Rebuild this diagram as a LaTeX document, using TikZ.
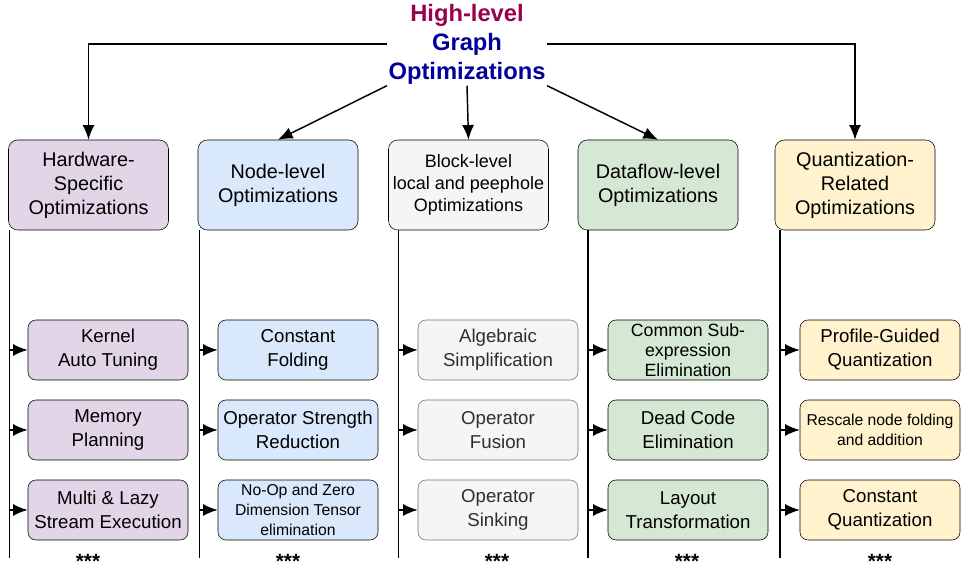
\documentclass[tikz,border=0pt]{standalone}
\usepackage{fontspec}
\setmainfont{Liberation Sans}
\usetikzlibrary{arrows.meta}
\usetikzlibrary{positioning}
\definecolor{titlered}{RGB}{153,0,77}
\definecolor{titleblue}{RGB}{0,0,153}
\definecolor{hwfill}{HTML}{E1D5E7}
\definecolor{nodefill}{HTML}{DAE8FC}
\definecolor{blockfill}{HTML}{F5F5F5}
\definecolor{flowfill}{HTML}{D5E8D4}
\definecolor{quantfill}{HTML}{FFF2CC}
\definecolor{greytext}{HTML}{2E2E2E}
\definecolor{greyline}{HTML}{707070}
\tikzset{arr/.style = {line width = 1.1pt, -{Latex[length = 11pt, width = 9pt]}}}
\tikzset{bar/.style = {line width = 1.2pt}}
\tikzset{catbox/.style = {draw, rounded corners = 7pt, align = center, inner sep = 0,
                          minimum width = 120pt, minimum height = 67.5pt,
                          font = \fontsize{14.85}{18}\selectfont}}
\tikzset{optbox/.style = {draw, rounded corners = 6pt, align = center, inner sep = 0,
                          minimum width = 120pt, minimum height = 45pt,
                          font = \fontsize{14}{18}\selectfont}}
\tikzset{greybox/.style = {optbox, fill = blockfill, draw = greyline,
                           font = \fontsize{14}{18}\selectfont\color{greytext}}}
\tikzset{small/.style = {font = \fontsize{11.8}{15}\selectfont}}
\tikzset{stars/.style = {font = \fontsize{15.5}{15}\selectfont\bfseries, inner sep = 0}}

\begin{document}
\begin{tikzpicture}[x = 0.75pt, y = -0.75pt]
      \useasboundingbox (0, 0) rectangle (961, 580);
      \node [align = center, inner sep = 1pt, font = \fontsize{17.8}{21.75}\selectfont\bfseries] (title) at (467, 44)
            {\textcolor{titlered}{High-level}\\ \textcolor{titleblue}{Graph}\\ \textcolor{titleblue}{Optimizations}};

      % categories
      \node [catbox, fill = hwfill] (hw) at (88.5, 185) {Hardware-\\Specific\\Optimizations};
      \node [catbox, fill = nodefill] (nl) at (278, 185) {Node-level\\Optimizations};
      \node [catbox, fill = blockfill, font = \fontsize{13.5}{16.5}\selectfont] (bl) at (468.5, 185)
            {Block-level\\local and peephole\\Optimizations};
      \node [catbox, fill = flowfill] (df) at (658, 185) {Dataflow-level\\Optimizations};
      \node [catbox, fill = quantfill] (qr) at (855, 185) {Quantization-\\Related\\Optimizations};

      \draw [arr] (title.west) -| (hw.north);
      \draw [arr] (title.east) -| (qr.north);
      \draw [arr] (title.south west) -- (nl.north);
      \draw [arr] (title.south) -- (bl.north);
      \draw [arr] (title.south east) -- (df.north);

      % optimizations
      \node [optbox, fill = hwfill] (kat) at (108, 350) {Kernel\\Auto Tuning};
      \node [optbox, fill = hwfill] (mp) at (108, 430) {Memory\\Planning};
      \node [optbox, fill = hwfill] (mls) at (108, 510) {Multi \& Lazy\\Stream Execution};

      \node [optbox, fill = nodefill] (cf) at (298, 350) {Constant\\Folding};
      \node [optbox, fill = nodefill] (osr) at (298, 430) {Operator Strength\\Reduction};
      \node [optbox, fill = nodefill, small] (nop) at (298, 510) {No-Op and Zero\\Dimension Tensor\\elimination};

      \node [greybox] (as) at (498, 350) {Algebraic\\Simplification};
      \node [greybox] (of) at (498, 430) {Operator\\Fusion};
      \node [greybox] (os) at (498, 510) {Operator\\Sinking};

      \node [optbox, fill = flowfill, font = \fontsize{13.3}{15}\selectfont] (cse) at (688, 350) {Common Sub-\\expression\\Elimination};
      \node [optbox, fill = flowfill] (dce) at (688, 430) {Dead Code\\Elimination};
      \node [optbox, fill = flowfill] (lt) at (688, 510) {Layout\\Transformation};

      \node [optbox, fill = quantfill] (pgq) at (880, 350) {Profile-Guided\\Quantization};
      \node [optbox, fill = quantfill, small] (rnf) at (880, 430) {Rescale node folding\\and addition};
      \node [optbox, fill = quantfill] (cq) at (880, 510) {Constant\\Quantization};

      % spines
      \coordinate (hwtop) at (9.5, 230);
      \coordinate (hwend) at (9.5, 558);
      \coordinate (nltop) at (199.5, 230);
      \coordinate (nlend) at (199.5, 558);
      \coordinate (bltop) at (398.5, 230);
      \coordinate (blend) at (398.5, 558);
      \coordinate (dftop) at (588, 230);
      \coordinate (dfend) at (588, 558);
      \coordinate (qrtop) at (780, 230);
      \coordinate (qrend) at (780, 558);
      \draw [bar] (hwtop) -- (hwend);
      \draw [bar] (nltop) -- (nlend);
      \draw [bar] (bltop) -- (blend);
      \draw [bar] (dftop) -- (dfend);
      \draw [bar] (qrtop) -- (qrend);

      \foreach \b in {kat, mp, mls} \draw [arr] (hwtop |- \b) -- (\b);
      \foreach \b in {cf, osr, nop} \draw [arr] (nltop |- \b) -- (\b);
      \foreach \b in {as, of, os} \draw [arr] (bltop |- \b) -- (\b);
      \foreach \b in {cse, dce, lt} \draw [arr] (dftop |- \b) -- (\b);
      \foreach \b in {pgq, rnf, cq} \draw [arr] (qrtop |- \b) -- (\b);

      \node [stars] (hwmore) at (88, 561) {***};
      \node [stars] (nlmore) at (288, 561) {***};
      \node [stars] (blmore) at (497, 561) {***};
      \node [stars] (dfmore) at (687, 561) {***};
      \node [stars] (qrmore) at (880, 561) {***};
    \end{tikzpicture}
\end{document}
